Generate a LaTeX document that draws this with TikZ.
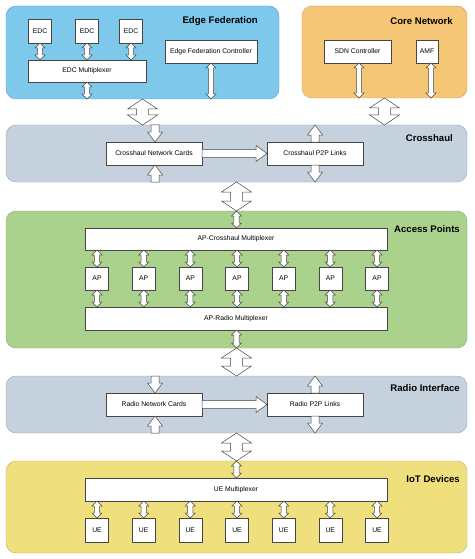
\documentclass[tikz,border=0pt]{standalone}
\usepackage{fontspec}
\setmainfont{Liberation Sans}
\usetikzlibrary{calc}
\definecolor{efblue}{RGB}{126,200,236}
\definecolor{cnorange}{RGB}{245,198,118}
\definecolor{chgrey}{RGB}{197,209,221}
\definecolor{apgreen}{RGB}{170,210,140}
\definecolor{iotyellow}{RGB}{240,224,125}
\definecolor{boxline}{RGB}{70,70,70}
\tikzset{
  layer/.style={rectangle, rounded corners=10pt, outer sep=0pt, inner sep=0pt, line width=0.4pt},
  box/.style={rectangle, draw=boxline, fill=white, line width=0.6pt, outer sep=0pt, inner sep=0pt, font=\fontsize{6.8}{8}\selectfont},
  title/.style={anchor=east, inner sep=0pt, font=\fontsize{9.6}{11}\bfseries\selectfont},
  blockarrow/.style={draw=boxline, fill=white, line width=0.5pt, line join=miter},
}
% double arrow between #1 and #2: half shaft #3, half head #4, head length #5
\newcommand\dblarrow[5]{%
  \coordinate (tmpA) at ($(#1)!#5!(#2)$);
  \coordinate (tmpB) at ($(#2)!#5!(#1)$);
  \draw[blockarrow] (#1) -- ($(tmpA)!#4!90:(#2)$) -- ($(tmpA)!#3!90:(#2)$) -- ($(tmpB)!#3!90:(#2)$) -- ($(tmpB)!#4!90:(#2)$) -- (#2)
    -- ($(tmpB)!#4!-90:(#2)$) -- ($(tmpB)!#3!-90:(#2)$) -- ($(tmpA)!#3!-90:(#2)$) -- ($(tmpA)!#4!-90:(#2)$) -- cycle;}
% single arrow from tail #1 to tip #2
\newcommand\sglarrow[5]{%
  \coordinate (tmpB) at ($(#2)!#5!(#1)$);
  \draw[blockarrow] (#2) -- ($(tmpB)!#4!90:(#2)$) -- ($(tmpB)!#3!90:(#2)$) -- ($(#1)!#3!90:(#2)$)
    -- ($(#1)!#3!-90:(#2)$) -- ($(tmpB)!#3!-90:(#2)$) -- ($(tmpB)!#4!-90:(#2)$) -- cycle;}
\newcommand\smalldbl[2]{\dblarrow{#1}{#2}{2.6pt}{5pt}{5pt}}
\newcommand\bigdbl[2]{\dblarrow{#1}{#2}{6pt}{15pt}{10pt}}
\newcommand\smallsgl[2]{\sglarrow{#1}{#2}{4pt}{7.5pt}{10pt}}
\begin{document}
\begin{tikzpicture}[x=1pt,y=-1pt]
\useasboundingbox (0,0) rectangle (474,559);
% layers
\node[layer, fill=efblue, draw=efblue!80!black, minimum width=273pt, minimum height=93pt] (ef) at (142.5,52.5) {};
\node[layer, fill=cnorange, draw=cnorange!80!black, minimum width=165pt, minimum height=92pt] (cn) at (384.5,52) {};
\node[layer, fill=chgrey, draw=chgrey!80!black, minimum width=461pt, minimum height=57pt] (ch) at (236.5,153.5) {};
\node[layer, fill=apgreen, draw=apgreen!80!black, minimum width=461pt, minimum height=137pt] (ap) at (236.5,279.5) {};
\node[layer, fill=chgrey, draw=chgrey!80!black, minimum width=461pt, minimum height=57pt] (ri) at (236.5,404.5) {};
\node[layer, fill=iotyellow, draw=iotyellow!80!black, minimum width=461pt, minimum height=92pt] (iot) at (236.5,507) {};
% titles
\node[title] (eft) at (258,21) {Edge Federation};
\node[title] (cnt) at (453,21) {Core Network};
\node[title] (cht) at (453,138) {Crosshaul};
\node[title] (apt) at (460,229) {Access Points};
\node[title] (rit) at (460,388) {Radio Interface};
\node[title] (iott) at (460,479) {IoT Devices};
% edge federation
\node[box, minimum width=23pt, minimum height=24pt] (edc1) at (40,31) {EDC};
\node[box, minimum width=23pt, minimum height=24pt] (edc2) at (87,31) {EDC};
\node[box, minimum width=23pt, minimum height=24pt] (edc3) at (131,31) {EDC};
\node[box, minimum width=118pt, minimum height=22pt] (efmux) at (87,71) {EDC Multiplexer};
\node[box, minimum width=92pt, minimum height=23pt] (efc) at (211,51.5) {Edge Federation Controller};
\foreach \e in {edc1,edc2,edc3}{\smalldbl{\e.south}{\e.south |- efmux.north}}
\smalldbl{efmux.south}{efmux.south |- ef.south}
\smalldbl{efc.south}{efc.south |- ef.south}
% core network
\node[box, minimum width=67pt, minimum height=23pt] (sdn) at (357.5,51.5) {SDN Controller};
\node[box, minimum width=22pt, minimum height=23pt] (amf) at (427,51.5) {AMF};
\coordinate (sdnb) at ($(sdn.south)+(1.5,0)$);
\coordinate (amfb) at ($(amf.south)+(4,0)$);
\smalldbl{sdnb}{sdnb |- cn.south}
\smalldbl{amfb}{amfb |- cn.south}
% big arrows into crosshaul
\bigdbl{ef.south}{ef.south |- ch.north}
\bigdbl{cn.south}{cn.south |- ch.north}
% crosshaul
\node[box, minimum width=96pt, minimum height=23pt] (chc) at (154,153.5) {Crosshaul Network Cards};
\node[box, minimum width=96pt, minimum height=23pt] (chp) at (315,153.5) {Crosshaul P2P Links};
\sglarrow{chc.east}{chp.west}{4pt}{8pt}{11pt}
\coordinate (chca) at ($(chc.north)+(1,0)$);
\coordinate (chcb) at ($(chc.south)+(1,0)$);
\smallsgl{chca |- ch.north}{chca}
\smallsgl{chca |- ch.south}{chcb}
\smallsgl{chp.north}{chp.north |- ch.north}
\smallsgl{chp.south}{chp.south |- ch.south}
\bigdbl{ch.south}{ch.south |- ap.north}
% access points
\node[box, minimum width=302pt, minimum height=22pt] (apx) at (236,239) {AP-Crosshaul Multiplexer};
\node[box, minimum width=302pt, minimum height=23pt] (apr) at (236,318.5) {AP-Radio Multiplexer};
\foreach \i/\x in {1/97,2/143.7,3/190.3,4/237,5/283.7,6/330.3,7/377}{
  \node[box, minimum width=23pt, minimum height=23pt] (ap\i) at (\x,278.5) {AP};
  \smalldbl{ap\i.north |- apx.south}{ap\i.north}
  \smalldbl{ap\i.south}{ap\i.south |- apr.north}
}
\coordinate (apin) at (237,211);
\smalldbl{ap.north}{ap.north |- apx.north}
\smalldbl{ap.south |- apr.south}{ap.south}
\bigdbl{ap.south}{ap.south |- ri.north}
% radio interface
\node[box, minimum width=96pt, minimum height=23pt] (ric) at (154,404.5) {Radio Network Cards};
\node[box, minimum width=96pt, minimum height=23pt] (rip) at (315,404.5) {Radio P2P Links};
\sglarrow{ric.east}{rip.west}{4pt}{8pt}{11pt}
\coordinate (rica) at ($(ric.north)+(1,0)$);
\coordinate (ricb) at ($(ric.south)+(1,0)$);
\smallsgl{rica |- ri.north}{rica}
\smallsgl{rica |- ri.south}{ricb}
\smallsgl{rip.north}{rip.north |- ri.north}
\smallsgl{rip.south}{rip.south |- ri.south}
\bigdbl{ri.south}{ri.south |- iot.north}
% iot devices
\node[box, minimum width=302pt, minimum height=23pt] (uex) at (236,489.5) {UE Multiplexer};
\smalldbl{iot.north}{iot.north |- uex.north}
\foreach \i/\x in {1/97,2/143.7,3/190.3,4/237,5/283.7,6/330.3,7/377}{
  \node[box, minimum width=23pt, minimum height=24pt] (ue\i) at (\x,530) {UE};
  \smalldbl{ue\i.north |- uex.south}{ue\i.north}
}
\end{tikzpicture}
\end{document}
